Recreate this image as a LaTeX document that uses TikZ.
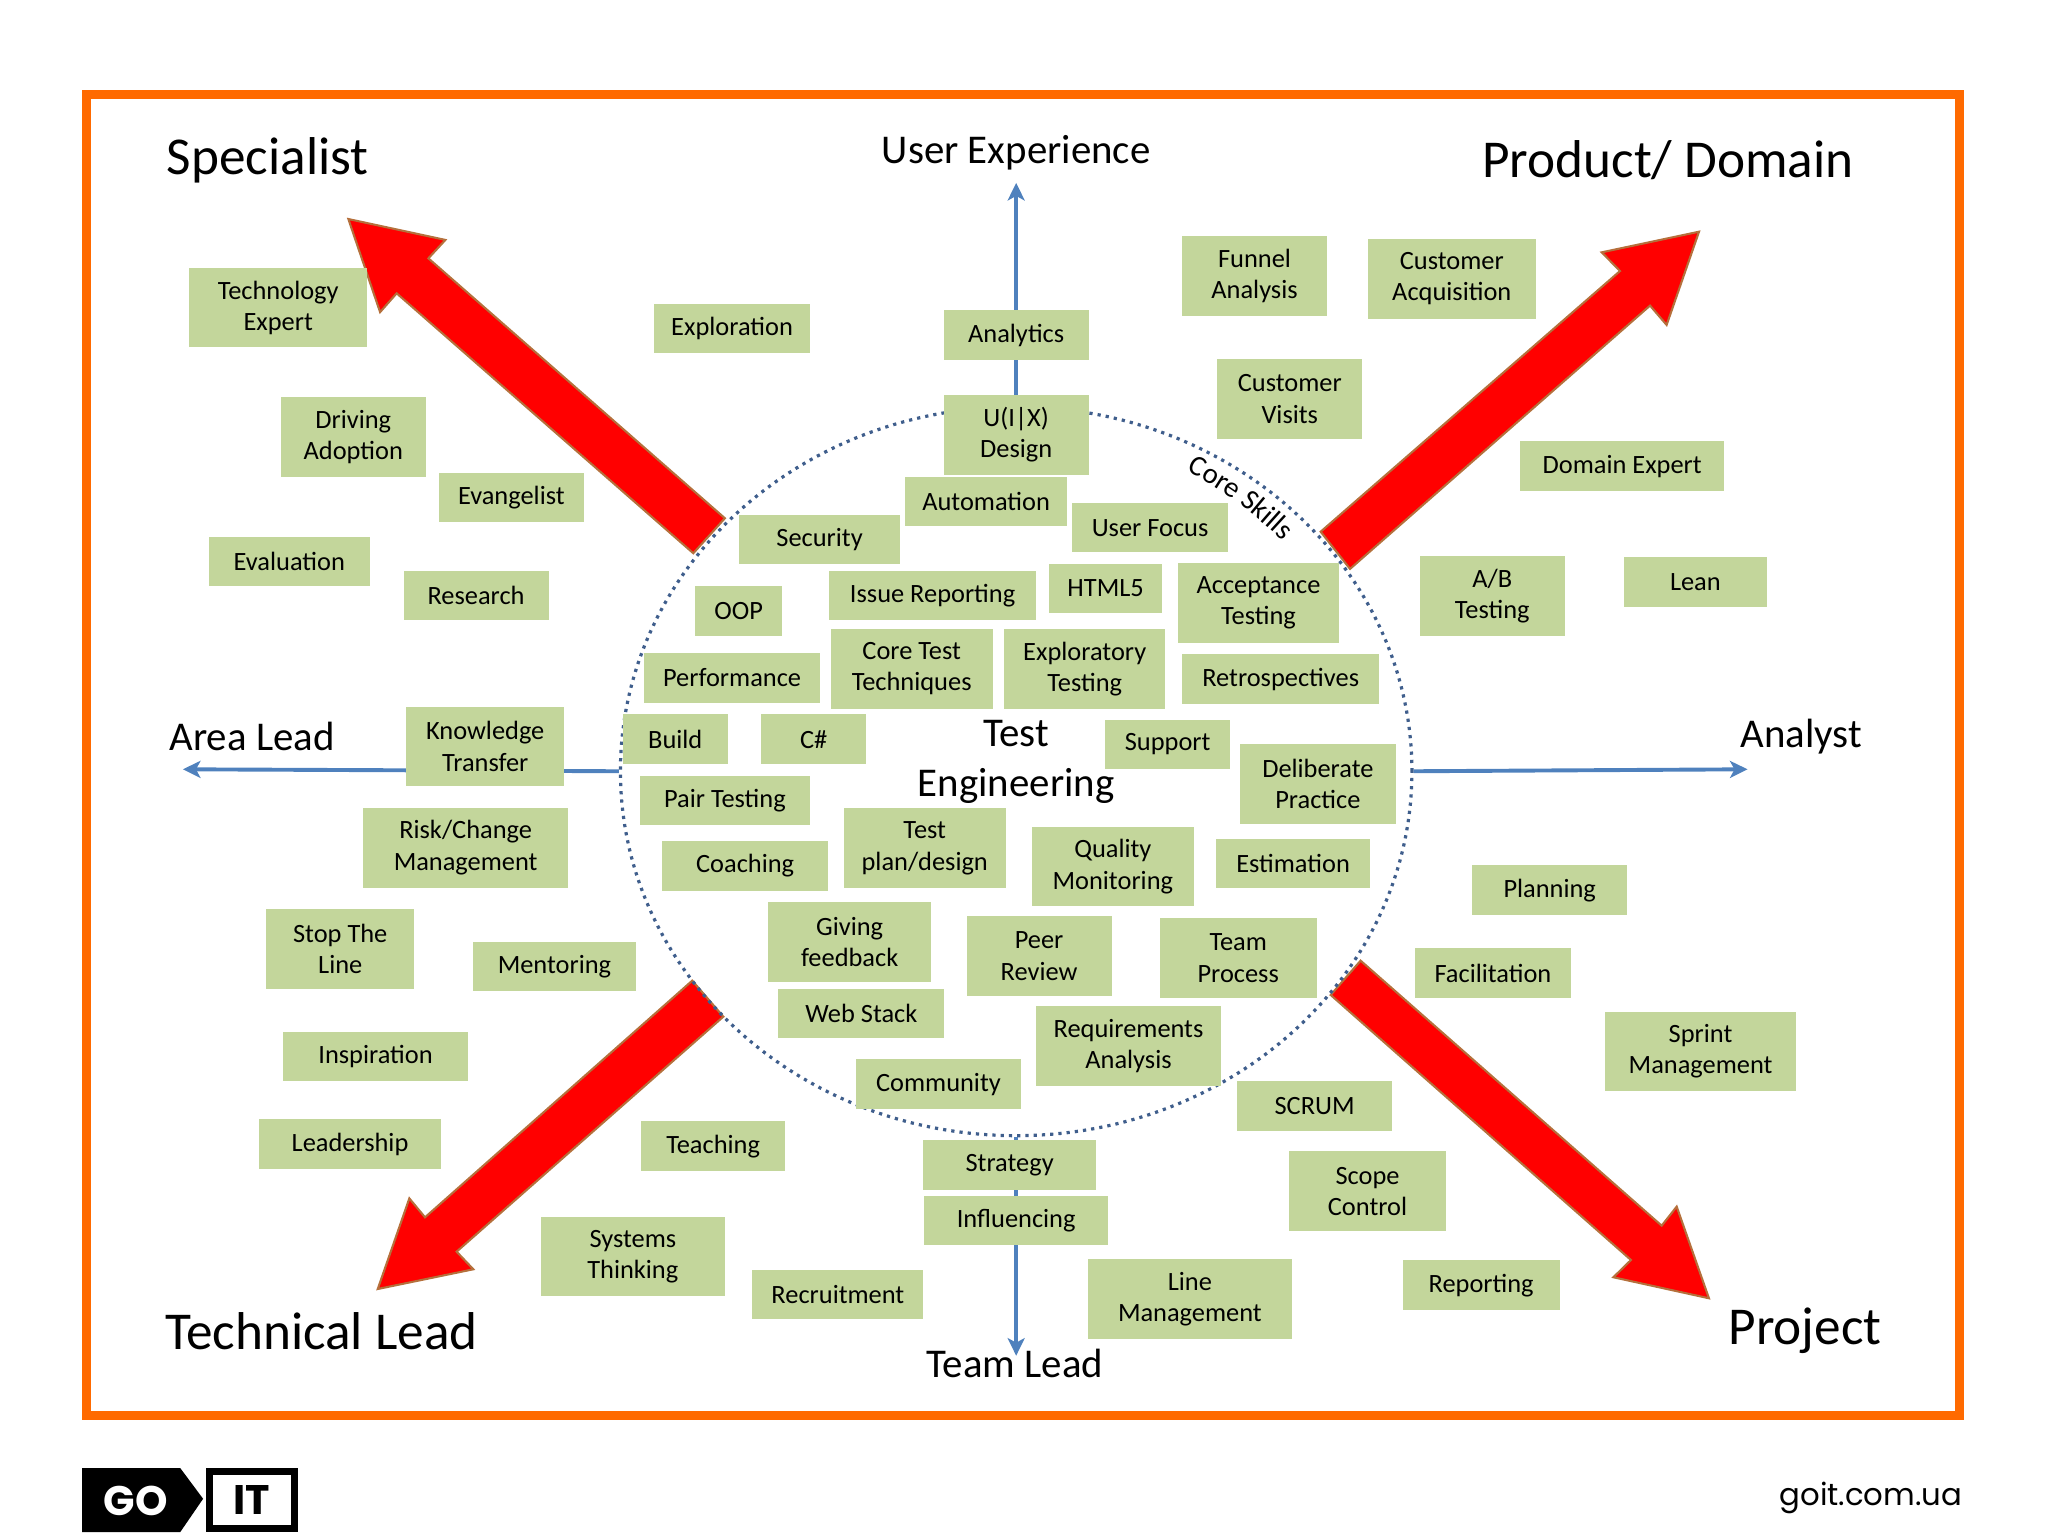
\documentclass[tikz,border=0pt]{standalone}
\usepackage{fontspec}
\setmainfont{Carlito}
\newfontfamily\brandFont{Poppins}
\usetikzlibrary{positioning,arrows.meta,shapes.geometric,decorations.text}
\definecolor{tagGreen}{HTML}{C3D69B}
\definecolor{axisBlue}{HTML}{4F81BD}
\definecolor{frameOrange}{HTML}{FF6A00}
\definecolor{ringBlue}{HTML}{3F5E8C}
\definecolor{rimBrown}{HTML}{B5703C}
\newcommand{\coreSkillFont}{\fontsize{6.3}{7.5}\selectfont}
\tikzset{
  tag/.style={fill=tagGreen, inner sep=0pt, outer sep=0pt, minimum height=0.38cm, align=center, font=\fontsize{5.75}{6.8}\selectfont},
  tagTall/.style={tag, minimum height=0.61cm},
  bigArrow/.style={fill=red, draw=rimBrown, line width=0.45pt, line join=miter},
  axis/.style={draw=axisBlue, line width=0.85pt, -{Stealth[length=1.35mm,width=1.3mm,inset=0.35mm]}},
  ring/.style={ellipse, draw=ringBlue, line width=0.7pt, dash pattern=on 0.7pt off 1.1pt, minimum width=6.06cm, minimum height=5.58cm, inner sep=0pt},
  cornerTitle/.style={font=\fontsize{11.6}{13}\selectfont, inner sep=0pt},
  axisTitle/.style={font=\fontsize{8.9}{11}\selectfont, inner sep=0pt, align=center}
}
\begin{document}
\begin{tikzpicture}[on grid]
  \useasboundingbox (0,0) rectangle (15.68,-11.76);
  \draw[frameOrange, line width=2pt] (0.665,-0.725) rectangle (15.005,-10.835);

  \draw[bigArrow] (2.667,-1.677) -- (3.41,-1.837) -- (3.28,-1.978) -- (5.55,-3.968) -- (5.308,-4.236) -- (3.037,-2.246) -- (2.91,-2.39) -- cycle;
  \draw[bigArrow] (13.008,-1.774) -- (12.263,-1.932) -- (12.403,-2.075) -- (10.111,-4.071) -- (10.336,-4.356) -- (12.633,-2.34) -- (12.76,-2.488) -- cycle;
  \draw[bigArrow] (2.892,-9.869) -- (3.624,-9.718) -- (3.496,-9.583) -- (5.538,-7.784) -- (5.30,-7.508) -- (3.254,-9.32) -- (3.134,-9.175) -- cycle;
  \draw[bigArrow] (13.084,-9.94) -- (12.352,-9.779) -- (12.487,-9.647) -- (10.188,-7.618) -- (10.417,-7.355) -- (12.722,-9.384) -- (12.837,-9.238) -- cycle;

  \node[ring] (core) at (7.78,-5.905) {};
  \coordinate (userEnd) at (7.78,-1.40);
  \coordinate (teamEnd) at (7.78,-10.38);
  \coordinate (areaEnd) at (1.40,-5.89);
  \coordinate (analystEnd) at (13.38,-5.89);
  \draw[axis] (core.north) -- (userEnd);
  \draw[axis] (core.south) -- (teamEnd);
  \draw[axis] (core.west) -- (areaEnd);
  \draw[axis] (core.east) -- (analystEnd);

  \node[cornerTitle] (specialist) at (2.05,-1.23) {Specialist};
  \node[cornerTitle] (product) at (12.77,-1.23) {Product/ Domain};
  \node[cornerTitle] (techLead) at (2.46,-10.19) {Technical Lead};
  \node[cornerTitle] (project) at (13.82,-10.19) {Project};
  \node[axisTitle] (userExp) at (7.78,-1.17) {User Experience};
  \node[axisTitle] (teamLead) at (7.77,-10.44) {Team Lead};
  \node[axisTitle] (areaLead) at (1.93,-5.64) {Area Lead};
  \node[axisTitle] (analyst) at (13.79,-5.64) {Analyst};
  \node[axisTitle, yshift=0.07cm] (testEng) at (core) {Test\\Engineering};

  \coordinate (skillStart) at (9.04,-3.58);
  \coordinate (skillEnd) at (9.86,-4.18);
  \path[decorate, decoration={text along path, text={|\coreSkillFont|Core Skills}, text align=center}] (skillStart) to[bend left=8] (skillEnd);

  \node[tag, minimum width=1.11cm, above=3.34cm of core] (analytics) {Analytics};
  \node[tagTall, minimum width=1.11cm, below=0.765cm of analytics] (uix) {U(I|X)\\Design};
  \node[tagTall, minimum width=1.11cm, above right=0.45cm and 1.825cm of analytics] (funnel) {Funnel\\Analysis};
  \node[tagTall, minimum width=1.29cm, below right=0.02cm and 1.51cm of funnel] (custAcq) {Customer\\Acquisition};
  \node[tagTall, minimum width=1.11cm, below right=0.94cm and 0.27cm of funnel] (custVisits) {Customer\\Visits};
  \node[tag, minimum width=1.56cm, below right=1.435cm and 1.305cm of custAcq] (domainExp) {Domain Expert};
  \node[tagTall, minimum width=1.11cm, below left=0.995cm and 0.995cm of domainExp] (abTest) {A/B\\Testing};
  \node[tag, minimum width=1.10cm, above right=0.11cm and 1.555cm of abTest] (lean) {Lean};
  \node[tag, minimum width=1.19cm, above left=0.05cm and 2.175cm of analytics] (explore) {Exploration};
  \node[tagTall, minimum width=1.36cm, above left=0.16cm and 3.475cm of explore] (techExpert) {Technology\\Expert};
  \node[tagTall, minimum width=1.11cm, below right=0.99cm and 0.575cm of techExpert] (driving) {Driving\\Adoption};
  \node[tag, minimum width=1.11cm, below right=0.465cm and 1.21cm of driving] (evangelist) {Evangelist};
  \node[tag, minimum width=1.23cm, below left=0.955cm and 0.49cm of driving] (evaluation) {Evaluation};
  \node[tag, minimum width=1.11cm, below right=0.26cm and 1.43cm of evaluation] (research) {Research};

  \node[tag, minimum width=1.24cm, below left=0.51cm and 0.23cm of uix] (automation) {Automation};
  \node[tag, minimum width=1.23cm, below left=0.29cm and 1.275cm of automation] (security) {Security};
  \node[tag, minimum width=1.19cm, below right=0.20cm and 1.255cm of automation] (userFocus) {User Focus};
  \node[tag, minimum width=0.67cm, below left=0.55cm and 0.62cm of security] (oop) {OOP};
  \node[tag, minimum width=1.58cm, below right=0.43cm and 0.865cm of security] (issue) {Issue Reporting};
  \node[tag, minimum width=0.87cm, above right=0.055cm and 1.325cm of issue] (html) {HTML5};
  \node[tagTall, minimum width=1.23cm, below right=0.11cm and 1.17cm of html] (accept) {Acceptance\\Testing};
  \node[tag, minimum width=1.35cm, below left=0.51cm and 0.05cm of oop] (perform) {Performance};
  \node[tagTall, minimum width=1.24cm, above right=0.07cm and 1.375cm of perform] (coreTest) {Core Test\\Techniques};
  \node[tagTall, minimum width=1.23cm, right=1.325cm of coreTest] (exploratory) {Exploratory\\Testing};
  \node[tag, minimum width=1.51cm, below right=0.08cm and 1.50cm of exploratory] (retro) {Retrospectives};
  \node[tag, minimum width=0.80cm, below left=0.47cm and 0.435cm of perform] (build) {Build};
  \node[tag, minimum width=0.80cm, right=1.06cm of build] (csharp) {C\#};
  \node[tag, minimum width=0.96cm, below right=0.58cm and 0.635cm of exploratory] (support) {Support};
  \node[tagTall, minimum width=1.20cm, below right=0.305cm and 1.15cm of support] (deliberate) {Deliberate\\Practice};
  \node[tagTall, minimum width=1.21cm, below left=0.055cm and 1.455cm of build] (knowledge) {Knowledge\\Transfer};
  \node[tag, minimum width=1.30cm, below right=0.47cm and 0.38cm of build] (pairTest) {Pair Testing};
  \node[tagTall, minimum width=1.57cm, below left=0.775cm and 0.15cm of knowledge] (risk) {Risk/Change\\Management};
  \node[tagTall, minimum width=1.24cm, below right=0.365cm and 1.53cm of pairTest] (testPlan) {Test\\plan/design};
  \node[tagTall, minimum width=1.24cm, below right=0.14cm and 1.44cm of testPlan] (quality) {Quality\\Monitoring};
  \node[tag, minimum width=1.18cm, above right=0.025cm and 1.38cm of quality] (estimate) {Estimation};
  \node[tag, minimum width=1.27cm, below right=0.50cm and 0.155cm of pairTest] (coaching) {Coaching};
  \node[tag, minimum width=1.19cm, below right=0.205cm and 1.965cm of estimate] (planning) {Planning};
  \node[tagTall, minimum width=1.13cm, below left=0.775cm and 0.96cm of risk] (stopLine) {Stop The\\Line};
  \node[tag, minimum width=1.25cm, below right=0.135cm and 1.64cm of stopLine] (mentoring) {Mentoring};
  \node[tagTall, minimum width=1.25cm, below right=0.58cm and 0.80cm of coaching] (giving) {Giving\\feedback};
  \node[tagTall, minimum width=1.11cm, below right=0.11cm and 1.45cm of giving] (peer) {Peer\\Review};
  \node[tagTall, minimum width=1.20cm, below right=0.015cm and 1.525cm of peer] (teamProc) {Team\\Process};
  \node[tag, minimum width=1.20cm, below right=0.115cm and 1.95cm of teamProc] (facil) {Facilitation};
  \node[tag, minimum width=1.27cm, below right=0.55cm and 0.09cm of giving] (webStack) {Web Stack};
  \node[tag, minimum width=1.41cm, below right=0.825cm and 0.27cm of stopLine] (inspire) {Inspiration};
  \node[tagTall, minimum width=1.42cm, below right=0.69cm and 0.685cm of peer] (reqs) {Requirements\\Analysis};
  \node[tagTall, minimum width=1.46cm, below right=0.60cm and 1.59cm of facil] (sprint) {Sprint\\Management};
  \node[tag, minimum width=1.27cm, below right=0.54cm and 0.59cm of webStack] (community) {Community};
  \node[tag, minimum width=1.19cm, below right=0.46cm and 1.425cm of reqs] (scrum) {SCRUM};
  \node[tag, minimum width=1.40cm, below left=0.67cm and 0.195cm of inspire] (leadership) {Leadership};
  \node[tag, minimum width=1.10cm, below left=0.475cm and 1.725cm of community] (teaching) {Teaching};
  \node[tag, minimum width=1.32cm, below right=0.62cm and 0.545cm of community] (strategy) {Strategy};
  \node[tagTall, minimum width=1.20cm, below right=0.65cm and 0.405cm of scrum] (scope) {Scope\\Control};
  \node[tag, minimum width=1.41cm, below right=0.425cm and 0.05cm of strategy] (influence) {Influencing};
  \node[tagTall, minimum width=1.41cm, below left=0.845cm and 0.615cm of teaching] (systems) {Systems\\Thinking};
  \node[tag, minimum width=1.31cm, below right=0.29cm and 1.57cm of systems] (recruit) {Recruitment};
  \node[tagTall, minimum width=1.56cm, below right=0.60cm and 1.33cm of influence] (lineMgmt) {Line\\Management};
  \node[tag, minimum width=1.20cm, below right=0.72cm and 0.87cm of scope] (reporting) {Reporting};

  \fill[black] (0.628,-11.24) -- (1.38,-11.24) -- (1.555,-11.475) -- (1.38,-11.73) -- (0.628,-11.73) -- cycle;
  \node[text=white, font=\brandFont\bfseries\fontsize{9}{10}\selectfont, inner sep=0pt] (logoGo) at (1.04,-11.49) {GO};
  \node[draw=black, line width=1.5pt, fill=white, minimum width=0.65cm, minimum height=0.436cm, inner sep=0pt, font=\brandFont\bfseries\fontsize{9}{10}\selectfont] (logoIt) at (1.929,-11.485) {IT};
  \node[anchor=east, inner sep=0pt, font=\brandFont\fontsize{6.7}{8}\selectfont] (siteName) at (15.03,-11.47) {goit.com.ua};
\end{tikzpicture}
\end{document}
